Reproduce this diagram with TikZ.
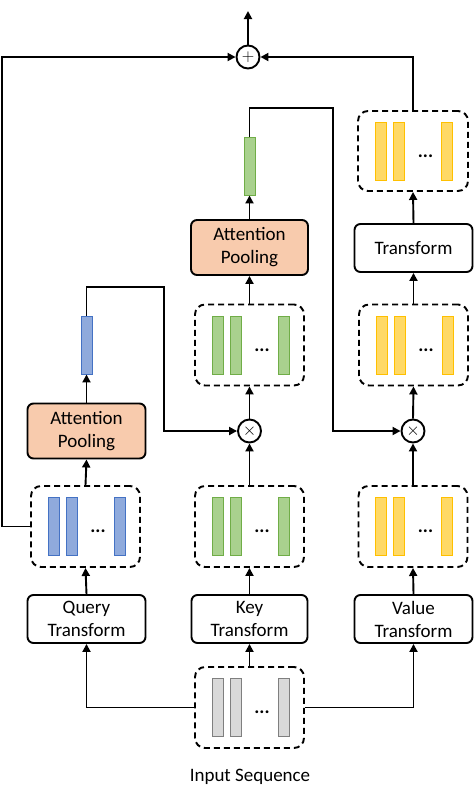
\documentclass[tikz,border=0pt]{standalone}
\usepackage{fontspec}
\setmainfont{Carlito}
\usetikzlibrary{calc,arrows.meta}

\definecolor{qfill}{HTML}{8FAADC}
\definecolor{qline}{HTML}{4472C4}
\definecolor{kfill}{HTML}{A9D18E}
\definecolor{kline}{HTML}{70AD47}
\definecolor{vfill}{HTML}{FFD966}
\definecolor{vline}{HTML}{FFC000}
\definecolor{infill}{HTML}{D9D9D9}
\definecolor{inline}{HTML}{7F7F7F}
\definecolor{poolfill}{HTML}{F8CBAD}

\tikzset{
	tbox/.style={draw, line width=1.9pt, rounded corners=6pt, fill=white, align=center,
		minimum width=118pt, minimum height=48pt, inner sep=0pt,
		font=\fontsize{19}{23}\selectfont},
	pool/.style={tbox, fill=poolfill, minimum height=55pt},
	seqbox/.style={draw, dashed, dash pattern=on 6pt off 4pt, line width=1.9pt,
		rounded corners=10pt, minimum width=109pt, minimum height=81pt, inner sep=0pt},
	vecbox/.style={draw, line width=0.9pt, minimum width=11pt, minimum height=58pt, inner sep=0pt},
	op/.style={circle, draw, line width=1.9pt, minimum size=23pt, inner sep=0pt,
		font=\fontsize{17}{17}\selectfont},
	link/.style={line width=1.9pt, -{Triangle[length=8pt,width=8pt]}},
}

% three vectors and dots inside a dashed sequence box
\def\seqbars(#1)[#2][#3]{%
	\foreach \dx in {-32,-14,34}
		\draw[fill=#2, draw=#3, line width=0.9pt] ($(#1)+(\dx-5.5,-29)$) rectangle ($(#1)+(\dx+5.5,29)$);
	\node[font=\fontsize{19}{23}\bfseries] at ($(#1)+(12.5,5)$) {...};}

\begin{document}
\begin{tikzpicture}[x=1pt, y=-1pt]
		%%%%% START %%%%%
		\useasboundingbox (0,0) rectangle (474,801);
		
		% input
		\node[seqbox] (inseq) at (249.5,707.5) {};
		\seqbars(inseq)[infill][inline]
		\node[font=\fontsize{19}{23}\selectfont] (inlabel) at (250,777) {Input Sequence};
		
		% transforms
		\node[tbox] (qt) at (86.5,619) {Query\\Transform};
		\node[tbox, minimum width=116pt] (kt) at (249.5,619) {Key\\Transform};
		\node[tbox] (vt) at (413.5,619) {Value\\Transform};
		
		\node[seqbox] (qseq) at (85.5,526.5) {};
		\node[seqbox] (kseq) at (249.5,526.5) {};
		\node[seqbox] (vseq) at (413,526.5) {};
		\seqbars(qseq)[qfill][qline]
		\seqbars(kseq)[kfill][kline]
		\seqbars(vseq)[vfill][vline]
		
		% query pooling
		\node[pool] (qpool) at (86.5,431) {Attention\\Pooling};
		\node[vecbox, fill=qfill, draw=qline] (qvec) at (86.5,345) {};
		
		\node[op] (kop) at (249.5,431) {$\times$};
		\node[op] (vop) at (413,431) {$\times$};
		
		\node[seqbox] (kseq2) at (249.5,345) {};
		\node[seqbox] (vseq2) at (413.5,345) {};
		\seqbars(kseq2)[kfill][kline]
		\seqbars(vseq2)[vfill][vline]
		
		% key pooling
		\node[pool, minimum width=117pt] (kpool) at (249.5,247.5) {Attention\\Pooling};
		\node[tbox] (vtr) at (413.5,248) {Transform};
		\node[vecbox, fill=kfill, draw=kline] (kvec) at (249.5,166) {};
		
		\node[seqbox, minimum width=110pt, minimum height=80pt] (vseq3) at (413,151) {};
		\seqbars(vseq3)[vfill][vline]
		
		\node[op] (sum) at (248,57) {$+$};
		
		\coordinate (out) at (248,11);
		\coordinate (qturn) at (164,287);
		\coordinate (kturn) at (333,108);
		\coordinate (qside) at (2,57);
		
		% connectors
		\draw[link] (inseq.west) -| (qt.south);
		\draw[link] (inseq.east) -| (vt.south);
		\draw[link] (inseq.north) -- (kt.south);
		
		\draw[link] (qt.north) -- (qseq.south);
		\draw[link] (kt.north) -- (kseq.south);
		\draw[link] (vt.north) -- (vseq.south);
		
		\draw[link] (qseq.north) -- (qpool.south);
		\draw[link] (qpool.north) -- (qvec.south);
		\draw[link] (qvec.north) |- (qturn) |- (kop.west);
		
		\draw[link] (kseq.north) -- (kop.south);
		\draw[link] (kop.north) -- (kseq2.south);
		\draw[link] (kseq2.north) -- (kpool.south);
		\draw[link] (kpool.north) -- (kvec.south);
		\draw[link] (kvec.north) |- (kturn) |- (vop.west);
		
		\draw[link] (vseq.north) -- (vop.south);
		\draw[link] (vop.north) -- (vseq2.south);
		\draw[link] (vseq2.north) -- (vtr.south);
		\draw[link] (vtr.north) -- (vseq3.south);
		
		\draw[link] (qseq.west) -| (qside) -- (sum.west);
		\draw[link] (vseq3.north) |- (sum.east);
		\draw[link] (sum.north) -- (out);
		
		%%%%% END %%%%%
	\end{tikzpicture}
\end{document}
